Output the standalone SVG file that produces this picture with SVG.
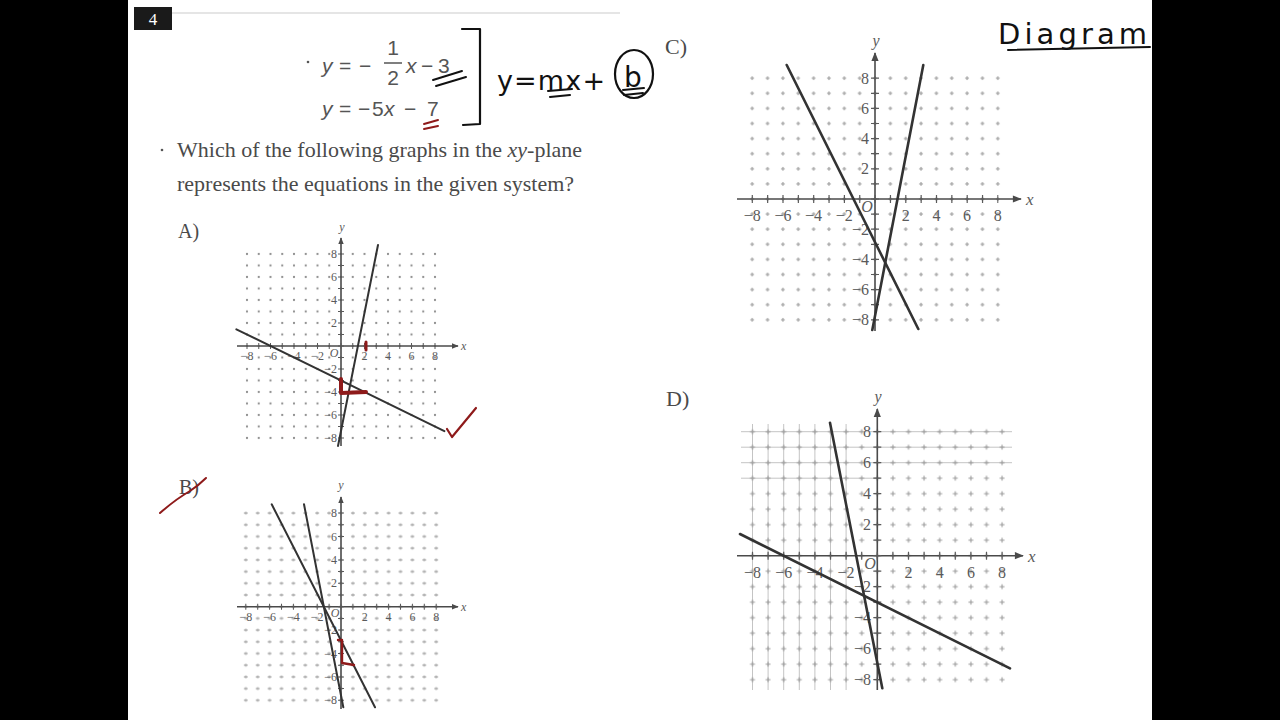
<svg xmlns="http://www.w3.org/2000/svg" width="1280" height="720" viewBox="0 0 1280 720">
<style>
.serif{font-family:"Liberation Serif","Times New Roman",serif;fill:#4a4a4a}
.sans{font-family:"Liberation Sans",Arial,sans-serif;fill:#555}
.tl{font-family:"Liberation Serif","Times New Roman",serif;fill:#5a5a5a}
.hand{font-family:"DejaVu Sans","Liberation Sans",sans-serif;fill:#111}
.axis{stroke:#4a4a4a;stroke-width:1.6;fill:none}
.tick{stroke:#5a5a5a;fill:none}
.gline{stroke:#333;fill:none;stroke-linecap:round}
.red{stroke:#8e1a1a;fill:none;stroke-linecap:round;stroke-linejoin:round}
.ink{stroke:#111;fill:none;stroke-linecap:round;stroke-linejoin:round}
</style>
<defs>
<marker id="arr" viewBox="0 0 10 10" refX="9" refY="5" markerWidth="7" markerHeight="7" markerUnits="userSpaceOnUse" orient="auto"><path d="M0,1 L10,5 L0,9 Z" fill="#4a4a4a"/></marker>
<marker id="arr2" viewBox="0 0 10 10" refX="9" refY="5" markerWidth="10" markerHeight="9" markerUnits="userSpaceOnUse" orient="auto"><path d="M0,1 L10,5 L0,9 Z" fill="#4a4a4a"/></marker>
<pattern id="pA" patternUnits="userSpaceOnUse" x="335.125" y="340.25" width="11.75" height="11.5"><circle cx="5.875" cy="5.75" r="1.1" fill="#8a8a8a"/></pattern>
<pattern id="pB" patternUnits="userSpaceOnUse" x="335.05" y="600.85" width="11.9" height="11.7"><path d="M3.95,5.85h4M5.95,4.35v3" stroke="#9a9a9a" stroke-width="1"/></pattern>
<pattern id="pC" patternUnits="userSpaceOnUse" x="867.325" y="191.45" width="15.35" height="15.1"><path d="M5.675,7.55h4M7.675,5.55v4" stroke="#9a9a9a" stroke-width="1.1"/></pattern>
<pattern id="pD" patternUnits="userSpaceOnUse" x="869.5" y="547.95" width="15.6" height="15.5"><path d="M5.3,7.75h5M7.8,5.25v5" stroke="#9a9a9a" stroke-width="1.1"/></pattern>
</defs>
<rect x="0" y="0" width="1280" height="720" fill="#000"/>
<rect x="128" y="0" width="1024" height="720" fill="#fff"/>

<g id="header">
<rect x="134" y="7" width="38" height="23" fill="#1a1a1a"/>
<text x="153" y="25" text-anchor="middle" font-family="Liberation Serif, serif" font-size="17" fill="#fff">4</text>
<line x1="172" y1="13" x2="620" y2="13" stroke="#ddd" stroke-width="1.5"/>
</g>

<g id="equations" class="sans" font-size="21">
<circle cx="308" cy="62" r="1.3" fill="#555"/>
<text y="73"><tspan x="322" font-style="italic">y</tspan><tspan x="339">=</tspan><tspan x="359">−</tspan></text>
<text x="393" y="55" text-anchor="middle">1</text>
<line x1="384" y1="63" x2="402" y2="63" stroke="#555" stroke-width="1.5"/>
<text x="393" y="85" text-anchor="middle">2</text>
<text y="73"><tspan x="406" font-style="italic">x</tspan><tspan x="421">−</tspan><tspan x="438">3</tspan></text>
<text y="116"><tspan x="322" font-style="italic">y</tspan><tspan x="339">=</tspan><tspan x="358">−</tspan><tspan x="372">5</tspan><tspan x="384" font-style="italic">x</tspan><tspan x="404">−</tspan><tspan x="427">7</tspan></text>
<path class="ink" stroke-width="2" d="M433,80 L462,71 M436,86 L466,77"/>
<path class="red" stroke-width="2" d="M424,124 L438,120 M424,129 L438,126"/>
<path class="ink" stroke-width="2.2" d="M462,29 L480,29 L480,124 L463,125"/>
</g>

<g id="slope-intercept">
<text class="hand" x="497" y="90" font-size="27" textLength="108" lengthAdjust="spacing">y=mx+</text>
<path class="ink" stroke-width="2" d="M548,91 L572,89 M550,97 L570,95"/>
<ellipse cx="634" cy="74" rx="19" ry="24" class="ink" stroke-width="2.2"/>
<text class="hand" x="624" y="87" font-size="28">b</text>
<path class="ink" stroke-width="2" d="M623,90 L644,88 M624,95 L643,93"/>
</g>

<g id="title">
<text class="hand" x="998" y="44" font-size="29" textLength="149" lengthAdjust="spacing">Diagram</text>
<line x1="1008" y1="50" x2="1150" y2="47" class="ink" stroke-width="2"/>
</g>

<g id="question" class="serif" font-size="22">
<circle cx="162" cy="150" r="1.3" fill="#555"/>
<text x="177" y="157">Which of the following graphs in the <tspan font-style="italic">xy</tspan>-plane</text>
<text x="177" y="191">represents the equations in the given system?</text>
</g>

<g id="graph-a">
<text class="serif" x="178" y="238" font-size="20">A)</text>
<rect x="241.1" y="248.25" width="199.75" height="195.5" fill="url(#pA)"/>
<line class="axis" x1="237" y1="346" x2="458" y2="346" marker-end="url(#arr)"/>
<line class="axis" x1="341" y1="446" x2="341" y2="238" marker-end="url(#arr)"/>
<line class="tick" x1="246.5" y1="346" x2="435.5" y2="346" stroke-width="6" stroke-dasharray="1 10.75"/>
<line class="tick" x1="341" y1="253.5" x2="341" y2="438.5" stroke-width="6" stroke-dasharray="1 10.5"/>
<text class="tl" x="461" y="350" font-size="12" font-style="italic">x</text>
<text class="tl" x="342" y="231" font-size="12" font-style="italic" text-anchor="middle">y</text>
<g class="tl" font-size="12" text-anchor="middle">
<text x="247" y="360">−8</text><text x="270.5" y="360">−6</text><text x="294" y="360">−4</text><text x="317.5" y="360">−2</text>
<text x="364.5" y="360">2</text><text x="388" y="360">4</text><text x="411.5" y="360">6</text><text x="435" y="360">8</text>
<text x="334" y="357" font-style="italic">O</text>
</g>
<g class="tl" font-size="12" text-anchor="end">
<text x="337" y="258">8</text><text x="337" y="281">6</text><text x="337" y="304">4</text><text x="337" y="327">2</text>
<text x="337" y="373">−2</text><text x="337" y="396">−4</text><text x="337" y="419">−6</text><text x="337" y="442">−8</text>
</g>
<line class="gline" stroke-width="2" x1="236.4" y1="329.3" x2="444.4" y2="431.1"/>
<line class="gline" stroke-width="2" x1="378" y1="245" x2="338" y2="446"/>
<path class="red" stroke-width="4" d="M341,379 L341,393 L366,392"/>
<path class="red" stroke-width="3" d="M366,342 L366,350"/>
<path class="red" stroke-width="2.2" d="M447,429 L452,437 L476,408"/>
</g>

<g id="graph-b">
<text class="serif" x="179" y="494" font-size="20">B)</text>
<path class="red" stroke-width="2" d="M160,513 Q176,499 190,491 Q199,485 206,478"/>
<rect x="239.85" y="507.25" width="202.3" height="199.9" fill="url(#pB)"/>
<line class="axis" x1="237" y1="606.7" x2="458" y2="606.7" marker-end="url(#arr)"/>
<line class="axis" x1="341" y1="709" x2="341" y2="497" marker-end="url(#arr)"/>
<line class="tick" x1="245.3" y1="606.7" x2="436.7" y2="606.7" stroke-width="6" stroke-dasharray="1 10.9"/>
<line class="tick" x1="341" y1="512.6" x2="341" y2="700.8" stroke-width="6" stroke-dasharray="1 10.7"/>
<text class="tl" x="461" y="611" font-size="12" font-style="italic">x</text>
<text class="tl" x="341" y="489" font-size="12" font-style="italic" text-anchor="middle">y</text>
<g class="tl" font-size="12" text-anchor="middle">
<text x="245.8" y="621">−8</text><text x="269.6" y="621">−6</text><text x="293.4" y="621">−4</text><text x="317.2" y="621">−2</text>
<text x="364.8" y="621">2</text><text x="388.6" y="621">4</text><text x="412.4" y="621">6</text><text x="436.2" y="621">8</text>
<text x="335" y="617" font-style="italic">O</text>
</g>
<g class="tl" font-size="12" text-anchor="end">
<text x="337" y="517">8</text><text x="337" y="540.5">6</text><text x="337" y="564">4</text><text x="337" y="587">2</text>
<text x="337" y="634">−2</text><text x="337" y="657.5">−4</text><text x="337" y="681">−6</text><text x="337" y="704">−8</text>
</g>
<line class="gline" stroke-width="2" x1="271.7" y1="504.3" x2="375" y2="707.3"/>
<line class="gline" stroke-width="2" x1="304" y1="504.3" x2="343.3" y2="707.3"/>
<path class="red" stroke-width="2.4" d="M338,640 L342,640 L342,663 L354,665"/>
</g>

<g id="graph-c">
<text class="serif" x="665" y="54" font-size="22">C)</text>
<rect x="744.525" y="70.65" width="260.95" height="256.7" fill="url(#pC)"/>
<line class="axis" stroke-width="2" x1="737" y1="199" x2="1021" y2="199" marker-end="url(#arr2)"/>
<line class="axis" stroke-width="2" x1="875" y1="331" x2="875" y2="53" marker-end="url(#arr2)"/>
<line class="tick" x1="751.7" y1="199" x2="998.3" y2="199" stroke-width="8" stroke-dasharray="1.2 14.15"/>
<line class="tick" x1="875" y1="77.6" x2="875" y2="320.4" stroke-width="8" stroke-dasharray="1.2 13.9"/>
<text class="tl" x="1026" y="205" font-size="17" font-style="italic">x</text>
<text class="tl" x="876" y="46" font-size="16" font-style="italic" text-anchor="middle">y</text>
<g class="tl" font-size="16" text-anchor="middle">
<text x="752.2" y="221">−8</text><text x="782.9" y="221">−6</text><text x="813.6" y="221">−4</text><text x="844.3" y="221">−2</text>
<text x="905.7" y="221">2</text><text x="936.4" y="221">4</text><text x="967.1" y="221">6</text><text x="997.8" y="221">8</text>
<text x="867" y="212" font-style="italic">O</text>
</g>
<g class="tl" font-size="16" text-anchor="end">
<text x="869" y="83.5">8</text><text x="869" y="113.5">6</text><text x="869" y="143.5">4</text><text x="869" y="174">2</text>
<text x="869" y="234.5">−2</text><text x="869" y="264.5">−4</text><text x="869" y="295">−6</text><text x="869" y="325">−8</text>
</g>
<line class="gline" stroke-width="2.6" x1="786.7" y1="65" x2="918.3" y2="329"/>
<line class="gline" stroke-width="2.6" x1="923.3" y1="65" x2="872.3" y2="330"/>
</g>

<g id="graph-d">
<text class="serif" x="666" y="406" font-size="22">D)</text>
<g stroke="#c4c4c4" stroke-width="1">
<path d="M741,431.7 H1012 M741,447.2 H1012 M741,462.7 H1012 M741,478.2 H880"/>
<path d="M752.5,424 V690 M768.1,424 V690 M783.7,424 V690 M799.3,424 V690 M814.9,424 V690 M830.5,424 V690 M846.1,424 V690"/>
</g>
<rect x="744.7" y="423.95" width="265.2" height="263.5" fill="url(#pD)"/>
<line class="axis" stroke-width="2" x1="737" y1="555.7" x2="1023" y2="555.7" marker-end="url(#arr2)"/>
<line class="axis" stroke-width="2" x1="877.3" y1="690" x2="877.3" y2="409" marker-end="url(#arr2)"/>
<line class="tick" x1="751.9" y1="555.7" x2="1002.7" y2="555.7" stroke-width="8" stroke-dasharray="1.2 14.4"/>
<line class="tick" x1="877.3" y1="431.1" x2="877.3" y2="680.3" stroke-width="8" stroke-dasharray="1.2 14.3"/>
<text class="tl" x="1028" y="562" font-size="17" font-style="italic">x</text>
<text class="tl" x="878" y="402" font-size="16" font-style="italic" text-anchor="middle">y</text>
<g class="tl" font-size="16" text-anchor="middle">
<text x="752.5" y="578">−8</text><text x="783.7" y="578">−6</text><text x="814.9" y="578">−4</text><text x="846.1" y="578">−2</text>
<text x="908.5" y="578">2</text><text x="939.7" y="578">4</text><text x="970.9" y="578">6</text><text x="1002.1" y="578">8</text>
<text x="870" y="569" font-style="italic">O</text>
</g>
<g class="tl" font-size="16" text-anchor="end">
<text x="871" y="437">8</text><text x="871" y="468">6</text><text x="871" y="499">4</text><text x="871" y="530">2</text>
<text x="871" y="592">−2</text><text x="871" y="623">−4</text><text x="871" y="654">−6</text><text x="871" y="685">−8</text>
</g>
<line class="gline" stroke-width="2.6" x1="740" y1="534" x2="1010" y2="668.3"/>
<line class="gline" stroke-width="2.6" x1="830" y1="422.7" x2="882.3" y2="688.3"/>
</g>
</svg>
